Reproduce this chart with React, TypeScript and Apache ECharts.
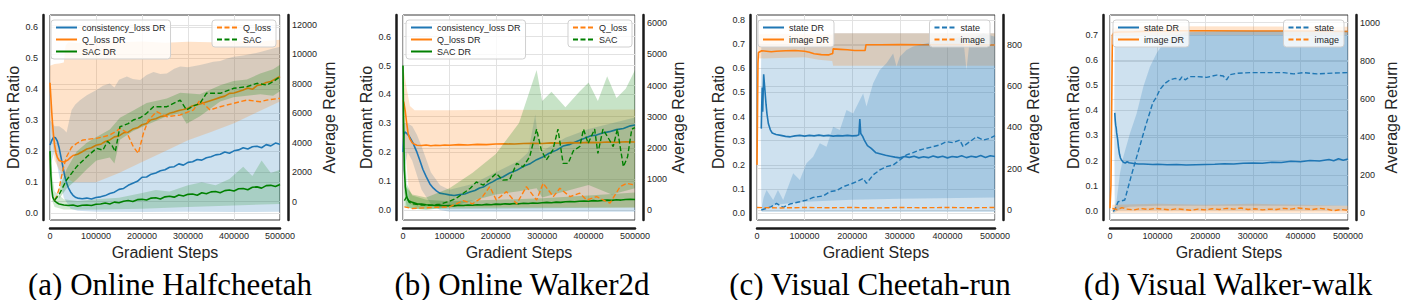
import React, { useEffect, useRef } from 'react';
import * as echarts from 'echarts';

type P = [number, number];

const FONT = '"Liberation Sans", Arial, sans-serif';
const BLUE = '#1f77b4';
const ORANGE = '#ff7f0e';
const GREEN = '#008000';
const K = 1000; // steps are written in thousands

// ---------------- tick labels ----------------
const X_TICKS = [0, 100000, 200000, 300000, 400000, 500000];
const TICKS_DR_06 = [0, 0.1, 0.2, 0.3, 0.4, 0.5, 0.6];
const TICKS_DR_07 = [0, 0.1, 0.2, 0.3, 0.4, 0.5, 0.6, 0.7];
const TICKS_DR_08 = [0, 0.1, 0.2, 0.3, 0.4, 0.5, 0.6, 0.7, 0.8];
const TICKS_RET_A = [0, 2000, 4000, 6000, 8000, 10000, 12000];
const TICKS_RET_B = [0, 1000, 2000, 3000, 4000, 5000, 6000];
const TICKS_RET_C = [0, 200, 400, 600, 800];
const TICKS_RET_D = [0, 200, 400, 600, 800, 1000];

// ---------------- (a) Online Halfcheetah ----------------
const A_CONS_DR: P[] = [[0,0.22],[4,0.235],[8,0.245],[12,0.243],[16,0.232],[20,0.21],[24,0.18],[28,0.15],[32,0.12],[36,0.098],[40,0.082],[45,0.068],[50,0.058],[55,0.052],[60,0.049],[70,0.047],[80,0.049],[90,0.046],[100,0.051],[110,0.053],[120,0.057],[130,0.064],[140,0.068],[150,0.077],[160,0.08],[170,0.09],[180,0.097],[190,0.103],[200,0.116],[210,0.117],[220,0.126],[230,0.13],[240,0.137],[250,0.14],[260,0.148],[270,0.15],[280,0.159],[290,0.155],[300,0.164],[310,0.166],[320,0.173],[330,0.171],[340,0.179],[350,0.182],[360,0.188],[370,0.19],[380,0.197],[390,0.193],[400,0.201],[410,0.204],[420,0.211],[430,0.207],[440,0.214],[450,0.216],[460,0.211],[470,0.221],[480,0.217],[490,0.226],[500,0.222]];
const A_CONS_LO: P[] = [[0,0.15],[10,0.2],[20,0.12],[30,0.05],[45,0.015],[60,0.008],[100,0.005],[200,0.004],[300,0.005],[400,0.004],[500,0.005]];
const A_CONS_HI: P[] = [[0,0.3],[10,0.28],[20,0.28],[30,0.27],[36,0.26],[42,0.3],[47,0.332],[55,0.35],[65,0.364],[80,0.38],[101,0.397],[115,0.41],[130,0.418],[140,0.405],[150,0.43],[167,0.44],[180,0.432],[196,0.429],[210,0.445],[225,0.455],[240,0.448],[254,0.45],[270,0.465],[283,0.472],[300,0.47],[326,0.477],[340,0.482],[355,0.488],[370,0.49],[385,0.498],[399,0.504],[420,0.508],[442,0.514],[455,0.518],[471,0.525],[485,0.53],[500,0.536]];
const A_QL_DR: P[] = [[0,0.42],[2,0.37],[4,0.32],[6,0.28],[8,0.245],[10,0.22],[13,0.195],[16,0.18],[20,0.17],[25,0.167],[30,0.165],[35,0.168],[40,0.173],[45,0.18],[50,0.186],[60,0.19],[70,0.198],[80,0.207],[90,0.211],[100,0.219],[110,0.222],[120,0.231],[130,0.236],[140,0.246],[150,0.249],[160,0.259],[170,0.261],[180,0.271],[190,0.275],[200,0.285],[210,0.289],[220,0.301],[230,0.304],[240,0.311],[250,0.314],[260,0.322],[270,0.326],[280,0.331],[290,0.334],[300,0.338],[310,0.346],[320,0.349],[330,0.353],[340,0.358],[350,0.363],[360,0.368],[370,0.373],[380,0.377],[390,0.386],[400,0.387],[410,0.392],[420,0.397],[430,0.403],[440,0.399],[450,0.411],[460,0.414],[470,0.421],[480,0.424],[490,0.432],[500,0.44]];
const A_QL_LO: P[] = [[0,0.3],[10,0.17],[20,0.14],[30,0.12],[50,0.1],[100,0.1],[150,0.13],[200,0.165],[250,0.2],[300,0.235],[350,0.262],[400,0.29],[450,0.325],[500,0.36]];
const A_QL_HI: P[] = [[0,0.475],[10,0.48],[20,0.482],[30,0.485],[34,0.54],[40,0.55],[60,0.548],[100,0.552],[150,0.55],[200,0.553],[250,0.549],[300,0.552],[350,0.55],[400,0.553],[450,0.551],[480,0.556],[500,0.558]];
const A_SAC_DR: P[] = [[0,0.2],[2,0.12],[4,0.075],[6,0.052],[10,0.04],[15,0.034],[20,0.03],[30,0.027],[40,0.025],[50,0.027],[60,0.023],[70,0.026],[80,0.027],[90,0.025],[100,0.029],[110,0.03],[120,0.033],[130,0.03],[140,0.036],[150,0.034],[160,0.039],[170,0.041],[180,0.038],[190,0.044],[200,0.045],[210,0.043],[220,0.049],[230,0.05],[240,0.046],[250,0.053],[260,0.055],[270,0.052],[280,0.059],[290,0.056],[300,0.061],[310,0.062],[320,0.058],[330,0.066],[340,0.063],[350,0.069],[360,0.07],[370,0.066],[380,0.073],[390,0.075],[400,0.072],[410,0.079],[420,0.08],[430,0.076],[440,0.084],[450,0.085],[460,0.081],[470,0.089],[480,0.09],[490,0.086],[500,0.093]];
const A_SAC_LO: P[] = [[0,0.12],[5,0.04],[10,0.02],[30,0.012],[100,0.012],[200,0.015],[300,0.02],[400,0.025],[500,0.03]];
const A_SAC_HI: P[] = [[0,0.26],[5,0.12],[10,0.07],[30,0.045],[60,0.04],[100,0.045],[150,0.05],[200,0.065],[230,0.075],[260,0.07],[300,0.09],[330,0.1],[360,0.09],[390,0.11],[420,0.15],[440,0.12],[460,0.17],[480,0.13],[500,0.14]];
const A_QL_RET: P[] = [[10,100],[15,400],[20,900],[25,1700],[30,2400],[36,3050],[47,3700],[60,4000],[72,4190],[85,4250],[101,4300],[115,4400],[130,4530],[145,4800],[152,4980],[167,4700],[181,3735],[192,3280],[203,4640],[214,5550],[232,6110],[254,5770],[283,5890],[312,6230],[326,6900],[348,6230],[370,6450],[399,6680],[428,6900],[457,6790],[471,6900],[500,7020]];
const A_SAC_RET: P[] = [[10,100],[20,500],[36,1470],[58,2380],[80,3050],[101,3620],[115,3500],[125,4100],[135,3800],[142,3400],[152,5090],[170,5300],[181,5550],[196,5700],[210,6000],[225,6450],[254,6450],[283,6900],[297,6230],[312,6500],[326,6680],[340,7360],[370,7360],[399,7700],[428,7810],[450,8040],[471,7920],[485,8150],[500,8490]];
const A_SAC_RET_LO: P[] = [[20,200],[36,900],[58,1500],[80,2200],[101,2800],[130,3000],[140,2600],[152,4200],[181,4800],[210,5200],[254,5800],[283,6000],[297,5300],[326,5800],[370,6800],[399,7100],[428,7200],[457,7300],[485,7200],[500,7500]];
const A_SAC_RET_HI: P[] = [[20,900],[36,2200],[58,3400],[80,4000],[101,4400],[130,4900],[152,5700],[181,6200],[210,6700],[254,7000],[283,7400],[326,7300],[370,7900],[399,8200],[428,8300],[457,8700],[485,9000],[500,9300]];

// ---------------- (b) Online Walker2d ----------------
const B_CONS_DR: P[] = [[0,0.2],[2,0.26],[4,0.27],[8,0.265],[12,0.258],[16,0.248],[22,0.23],[26,0.215],[30,0.2],[36,0.173],[43,0.14],[50,0.115],[58,0.09],[65,0.076],[72,0.066],[79,0.058],[90,0.055],[100,0.052],[110,0.05],[122,0.053],[133,0.055],[144,0.062],[155,0.067],[165,0.076],[173,0.079],[185,0.091],[193,0.097],[201,0.105],[215,0.114],[230,0.128],[245,0.137],[260,0.151],[275,0.161],[288,0.174],[300,0.182],[315,0.196],[331,0.207],[345,0.221],[360,0.227],[374,0.237],[390,0.247],[405,0.257],[417,0.259],[430,0.266],[445,0.271],[460,0.278],[475,0.282],[490,0.291],[500,0.294]];
const B_CONS_LO: P[] = [[0,0.12],[10,0.2],[20,0.17],[30,0.12],[40,0.07],[60,0.02],[80,0.0],[100,-0.006],[500,-0.006]];
const B_CONS_HI: P[] = [[0,0.3],[10,0.3],[20,0.29],[30,0.26],[40,0.22],[60,0.13],[80,0.085],[100,0.07],[150,0.09],[200,0.13],[250,0.17],[270,0.2],[285,0.33],[295,0.2],[350,0.25],[400,0.28],[450,0.3],[500,0.32]];
const B_QL_DR: P[] = [[0,0.38],[2,0.37],[5,0.34],[8,0.3],[11,0.265],[15,0.245],[20,0.232],[25,0.227],[30,0.224],[40,0.223],[50,0.225],[60,0.222],[70,0.224],[80,0.223],[90,0.225],[100,0.224],[120,0.226],[140,0.225],[160,0.227],[180,0.226],[200,0.228],[220,0.229],[240,0.228],[260,0.23],[280,0.231],[300,0.23],[320,0.232],[340,0.231],[360,0.233],[380,0.232],[400,0.234],[420,0.233],[440,0.235],[460,0.234],[480,0.236],[500,0.235]];
const B_QL_LO: P[] = [[0,0.3],[8,0.15],[15,0.02],[30,0.008],[500,0.008]];
const B_QL_HI: P[] = [[0,0.5],[8,0.42],[15,0.36],[25,0.345],[100,0.345],[200,0.347],[300,0.346],[400,0.347],[500,0.348]];
const B_SAC_DR: P[] = [[0,0.5],[1,0.35],[2,0.22],[3,0.14],[5,0.08],[8,0.045],[12,0.032],[20,0.026],[30,0.021],[40,0.02],[50,0.018],[60,0.017],[70,0.015],[80,0.016],[90,0.014],[100,0.015],[110,0.014],[120,0.016],[130,0.015],[140,0.017],[150,0.016],[160,0.018],[170,0.017],[180,0.019],[190,0.018],[200,0.02],[210,0.019],[220,0.021],[230,0.02],[240,0.022],[250,0.021],[260,0.023],[270,0.022],[280,0.024],[290,0.023],[300,0.025],[310,0.026],[320,0.025],[330,0.027],[340,0.026],[350,0.028],[360,0.029],[370,0.028],[380,0.03],[390,0.031],[400,0.03],[410,0.032],[420,0.031],[430,0.033],[440,0.034],[450,0.033],[460,0.035],[470,0.034],[480,0.036],[490,0.037],[500,0.036]];
const B_SAC_LO: P[] = [[0,0.3],[3,0.06],[8,0.01],[20,0.003],[500,0.008]];
const B_SAC_HI: P[] = [[0,0.55],[3,0.25],[8,0.09],[20,0.05],[50,0.035],[100,0.03],[200,0.035],[300,0.04],[400,0.05],[500,0.06]];
const B_QL_RET: P[] = [[3,100],[20,50],[60,80],[100,100],[130,300],[150,200],[170,400],[187,750],[201,320],[223,590],[245,200],[266,750],[288,320],[302,860],[324,430],[338,700],[360,430],[381,540],[396,320],[417,430],[446,220],[468,750],[482,860],[500,800]];
const B_SAC_RET: P[] = [[3,300],[8,430],[13,250],[20,200],[40,160],[60,150],[80,190],[100,280],[115,380],[130,540],[145,700],[158,900],[173,800],[188,1000],[201,1180],[215,960],[230,980],[245,1500],[259,1390],[273,1710],[288,2600],[298,1930],[309,1610],[323,1930],[334,2600],[345,1500],[356,1500],[367,1900],[381,2040],[389,2600],[399,2140],[413,2600],[420,1820],[431,2600],[445,2250],[453,2040],[462,2600],[475,1390],[484,1710],[493,2600],[500,2650]];
const B_SAC_RET_LO: P[] = [[3,100],[20,50],[50,0],[100,100],[150,300],[200,500],[250,600],[288,700],[300,400],[350,600],[400,800],[450,500],[500,700]];
const B_SAC_RET_HI: P[] = [[3,800],[20,500],[50,400],[100,700],[150,1200],[200,1800],[250,2800],[288,4500],[300,3500],[320,3800],[350,3300],[380,3800],[400,4100],[420,3500],[440,4300],[460,3600],[480,3900],[500,4500]];

// ---------------- (c) Visual Cheetah-run ----------------
const C_STATE_DR: P[] = [[9,0.35],[10,0.45],[11,0.52],[12,0.42],[13,0.5],[14,0.575],[15,0.55],[17,0.5],[19,0.45],[21,0.41],[24,0.37],[28,0.345],[32,0.332],[40,0.326],[50,0.322],[60,0.318],[70,0.316],[80,0.32],[90,0.322],[100,0.319],[110,0.322],[120,0.32],[130,0.323],[140,0.32],[150,0.322],[160,0.319],[170,0.321],[180,0.32],[190,0.322],[200,0.32],[210,0.321],[214,0.325],[216,0.39],[218,0.33],[222,0.318],[226,0.3],[232,0.28],[240,0.268],[250,0.25],[260,0.245],[270,0.24],[280,0.236],[290,0.232],[300,0.229],[310,0.235],[320,0.231],[330,0.236],[340,0.229],[350,0.234],[360,0.23],[370,0.237],[380,0.231],[390,0.236],[400,0.229],[410,0.235],[420,0.232],[430,0.238],[440,0.23],[450,0.236],[460,0.232],[470,0.239],[480,0.231],[490,0.238],[500,0.235]];
const C_STATE_LO: P[] = [[8,0.35],[9,0.05],[10,0.005],[500,0.005]];
const C_STATE_HI: P[] = [[8,0.5],[9,0.69],[100,0.69],[158,0.69],[160,0.745],[500,0.745]];
const C_IMG_DR: P[] = [[0,0.2],[1,0.4],[2,0.62],[3,0.665],[10,0.672],[20,0.67],[30,0.668],[40,0.67],[60,0.672],[80,0.673],[100,0.67],[110,0.666],[120,0.66],[135,0.656],[150,0.655],[157,0.66],[159,0.66],[160,0.68],[175,0.678],[190,0.676],[205,0.673],[220,0.673],[227,0.673],[229,0.697],[260,0.697],[300,0.698],[350,0.697],[400,0.698],[450,0.697],[500,0.696]];
const C_IMG_LO: P[] = [[0,0.1],[3,0.64],[100,0.645],[130,0.635],[158,0.63],[160,0.61],[500,0.61]];
const C_IMG_HI: P[] = [[0,0.3],[3,0.74],[50,0.742],[100,0.74],[158,0.738],[160,0.745],[500,0.745]];
const C_STATE_RET: P[] = [[9,0],[20,8],[30,16],[41,32],[55,13],[69,29],[90,40],[104,48],[118,61],[139,68],[153,89],[167,94],[181,113],[195,124],[209,137],[223,153],[230,129],[244,170],[258,194],[272,210],[286,218],[300,242],[314,267],[328,278],[342,291],[356,299],[370,307],[384,315],[398,331],[412,326],[426,339],[433,307],[447,331],[461,355],[475,339],[489,347],[500,360]];
const C_STATE_RET_LO: P[] = [[9,0],[20,10],[40,25],[100,40],[200,50],[300,55],[500,60]];
const C_STATE_RET_HI: P[] = [[9,0],[14,60],[20,97],[34,48],[44,97],[55,48],[76,178],[90,145],[104,226],[118,258],[132,323],[146,307],[160,404],[174,388],[188,485],[202,468],[216,533],[223,565],[230,501],[244,614],[258,678],[272,711],[286,759],[293,695],[300,743],[314,775],[328,792],[356,808],[384,824],[412,832],[433,840],[440,678],[447,824],[475,856],[500,840]];
const C_IMG_RET: P[] = [[0,12],[50,10],[100,12],[150,11],[200,12],[250,10],[300,12],[350,11],[400,12],[450,11],[500,12]];

// ---------------- (d) Visual Walker-walk ----------------
const D_STATE_DR: P[] = [[10,0.39],[11,0.36],[12,0.34],[13,0.33],[14,0.31],[16,0.285],[18,0.25],[20,0.225],[22,0.21],[25,0.2],[28,0.193],[32,0.19],[36,0.195],[40,0.191],[50,0.188],[60,0.186],[70,0.186],[80,0.185],[90,0.184],[100,0.185],[120,0.183],[140,0.184],[160,0.182],[180,0.183],[200,0.184],[220,0.185],[240,0.187],[260,0.186],[280,0.189],[300,0.19],[320,0.189],[340,0.193],[360,0.192],[380,0.197],[400,0.195],[420,0.2],[440,0.198],[460,0.204],[470,0.199],[480,0.207],[490,0.201],[500,0.206]];
const D_STATE_LO: P[] = [[9,0.3],[10,0.003],[500,0.003]];
const D_STATE_HI: P[] = [[9,0.45],[10,0.72],[500,0.72]];
const D_IMG_DR: P[] = [[0,0.01],[2,0.1],[4,0.5],[5,0.7],[8,0.71],[20,0.712],[50,0.713],[100,0.716],[150,0.717],[200,0.717],[300,0.716],[400,0.716],[500,0.714]];
const D_IMG_LO: P[] = [[0,0],[3,0.3],[5,0.69],[10,0.7],[500,0.7]];
const D_IMG_HI: P[] = [[0,0.02],[3,0.5],[5,0.725],[10,0.73],[100,0.735],[500,0.733]];
const D_STATE_RET: P[] = [[7,9],[12,30],[17,61],[24,65],[31,70],[45,200],[60,330],[75,460],[90,580],[98,612],[105,650],[116,682],[126,700],[137,708],[147,700],[151,715],[158,700],[168,717],[182,717],[203,713],[224,725],[238,720],[245,700],[252,727],[266,734],[295,738],[330,738],[365,738],[386,731],[407,738],[435,731],[456,734],[500,738]];
const D_STATE_RET_LO: P[] = [[7,0],[20,20],[40,35],[100,40],[500,40]];
const D_STATE_RET_HI: P[] = [[7,10],[14,70],[21,210],[28,297],[42,420],[56,524],[70,664],[84,769],[98,839],[112,892],[126,918],[140,935],[160,950],[250,955],[350,955],[500,955]];
const D_IMG_RET: P[] = [[5,25],[15,20],[25,30],[35,22],[50,18],[65,25],[80,20],[95,26],[110,22],[125,18],[140,24],[155,20],[170,16],[185,22],[200,18],[215,24],[230,20],[245,26],[260,22],[275,28],[290,20],[305,24],[320,18],[335,22],[350,20],[365,26],[380,22],[395,28],[410,24],[425,20],[440,26],[455,22],[470,14],[485,20],[500,16]];
const D_IMG_RET_LO: P[] = [[5,3],[500,3]];
const D_IMG_RET_HI: P[] = [[5,45],[100,50],[200,45],[300,50],[400,45],[500,40]];

// ---------------- helpers ----------------
const rgba = (hex: string, a: number) => {
  const n = parseInt(hex.slice(1), 16);
  return `rgba(${(n >> 16) & 255},${(n >> 8) & 255},${n & 255},${a})`;
};
const toXY = (arr: P[]) => arr.map(([k, v]) => [k * K, v]);

interface LineDef { name: string; data: P[]; color: string; dashed?: boolean }
interface BandDef { lo: P[]; hi: P[]; color: string; alpha?: number }
interface Panel {
  left: number; width: number;
  yL: [number, number]; yR: [number, number];
  ticksL: number[]; ticksR: number[];
  gapL: number; gapR: number;
  legendL: string[]; legendR: string[];
  legLeft: number; legRightEdge: number;
  title: string; titleX: number;
  bandsDR: BandDef[]; linesDR: LineDef[]; bandsRet: BandDef[]; linesRet: LineDef[];
}

const PANELS: Panel[] = [
  {
    left: 50, width: 230, yL: [-0.0215, 0.638], yR: [-1245, 12680],
    ticksL: TICKS_DR_06, ticksR: TICKS_RET_A, gapL: 18, gapR: 33,
    legendL: ['consistency_loss DR', 'Q_loss DR', 'SAC DR'], legendR: ['Q_loss', 'SAC'],
    legLeft: 51, legRightEdge: 276, title: '(a) Online Halfcheetah', titleX: 170,
    bandsDR: [
      { lo: A_CONS_LO, hi: A_CONS_HI, color: BLUE },
      { lo: A_QL_LO, hi: A_QL_HI, color: ORANGE },
      { lo: A_SAC_LO, hi: A_SAC_HI, color: GREEN, alpha: 0.18 },
    ],
    linesDR: [
      { name: 'consistency_loss DR', data: A_CONS_DR, color: BLUE },
      { name: 'Q_loss DR', data: A_QL_DR, color: ORANGE },
      { name: 'SAC DR', data: A_SAC_DR, color: GREEN },
    ],
    bandsRet: [{ lo: A_SAC_RET_LO, hi: A_SAC_RET_HI, color: GREEN }],
    linesRet: [
      { name: 'Q_loss', data: A_QL_RET, color: ORANGE, dashed: true },
      { name: 'SAC', data: A_SAC_RET, color: GREEN, dashed: true },
    ],
  },
  {
    left: 403, width: 232, yL: [-0.035, 0.675], yR: [-321, 6268],
    ticksL: TICKS_DR_06, ticksR: TICKS_RET_B, gapL: 18, gapR: 26,
    legendL: ['consistency_loss DR', 'Q_loss DR', 'SAC DR'], legendR: ['Q_loss', 'SAC'],
    legLeft: 406, legRightEdge: 632, title: '(b) Online Walker2d', titleX: 522,
    bandsDR: [
      { lo: B_CONS_LO, hi: B_CONS_HI, color: BLUE },
      { lo: B_QL_LO, hi: B_QL_HI, color: ORANGE },
      { lo: B_SAC_LO, hi: B_SAC_HI, color: GREEN },
    ],
    linesDR: [
      { name: 'consistency_loss DR', data: B_CONS_DR, color: BLUE },
      { name: 'Q_loss DR', data: B_QL_DR, color: ORANGE },
      { name: 'SAC DR', data: B_SAC_DR, color: GREEN },
    ],
    bandsRet: [{ lo: B_SAC_RET_LO, hi: B_SAC_RET_HI, color: GREEN }],
    linesRet: [
      { name: 'Q_loss', data: B_QL_RET, color: ORANGE, dashed: true },
      { name: 'SAC', data: B_SAC_RET, color: GREEN, dashed: true },
    ],
  },
  {
    left: 757, width: 238, yL: [-0.028, 0.82], yR: [-48.5, 945],
    ticksL: TICKS_DR_08, ticksR: TICKS_RET_C, gapL: 24, gapR: 20,
    legendL: ['state DR', 'image DR'], legendR: ['state', 'image'],
    legLeft: 758, legRightEdge: 990, title: '(c) Visual Cheetah-run', titleX: 870,
    bandsDR: [
      { lo: C_STATE_LO, hi: C_STATE_HI, color: BLUE },
      { lo: C_IMG_LO, hi: C_IMG_HI, color: ORANGE },
    ],
    linesDR: [
      { name: 'state DR', data: C_STATE_DR, color: BLUE },
      { name: 'image DR', data: C_IMG_DR, color: ORANGE },
    ],
    bandsRet: [{ lo: C_STATE_RET_LO, hi: C_STATE_RET_HI, color: BLUE }],
    linesRet: [
      { name: 'state', data: C_STATE_RET, color: BLUE, dashed: true },
      { name: 'image', data: C_IMG_RET, color: ORANGE, dashed: true },
    ],
  },
  {
    left: 1110, width: 238, yL: [-0.037, 0.78], yR: [-35, 1040],
    ticksL: TICKS_DR_07, ticksR: TICKS_RET_D, gapL: 18, gapR: 25,
    legendL: ['state DR', 'image DR'], legendR: ['state', 'image'],
    legLeft: 1113, legRightEdge: 1344, title: '(d) Visual Walker-walk', titleX: 1228,
    bandsDR: [
      { lo: D_STATE_LO, hi: D_STATE_HI, color: BLUE },
      { lo: D_IMG_LO, hi: D_IMG_HI, color: ORANGE },
    ],
    linesDR: [
      { name: 'state DR', data: D_STATE_DR, color: BLUE },
      { name: 'image DR', data: D_IMG_DR, color: ORANGE },
    ],
    bandsRet: [
      { lo: D_STATE_RET_LO, hi: D_STATE_RET_HI, color: BLUE },
      { lo: D_IMG_RET_LO, hi: D_IMG_RET_HI, color: ORANGE },
    ],
    linesRet: [
      { name: 'state', data: D_STATE_RET, color: BLUE, dashed: true },
      { name: 'image', data: D_IMG_RET, color: ORANGE, dashed: true },
    ],
  },
];

const TEXT = '#262626';
const SPINE = '#1a1a1a';
const GRIDLINE = '#e2e2e2';

function bandSeries(b: BandDef, xIdx: number, yIdx: number, z: number, id: string) {
  const lo = toXY(b.lo);
  const hi = toXY(b.hi);
  const fill = rgba(b.color, b.alpha ?? 0.22);
  return {
    type: 'custom',
    name: id,
    xAxisIndex: xIdx,
    yAxisIndex: yIdx,
    z,
    silent: true,
    clip: true,
    data: [lo[0]],
    renderItem: (_p: any, api: any) => {
      const pts = lo.map((p) => api.coord(p)).concat(hi.slice().reverse().map((p) => api.coord(p)));
      return { type: 'polygon', shape: { points: pts }, style: { fill } };
    },
  };
}

function lineSeries(l: LineDef, xIdx: number, yIdx: number, z: number) {
  return {
    type: 'line',
    name: l.name,
    xAxisIndex: xIdx,
    yAxisIndex: yIdx,
    z,
    symbol: 'none',
    silent: true,
    data: toXY(l.data),
    lineStyle: l.dashed
      ? { color: l.color, width: 1.4, type: [5, 2.5] }
      : { color: l.color, width: 1.6, type: 'solid' },
    itemStyle: { color: l.color },
  };
}

function buildOption() {
  const grid: any[] = [];
  const xAxis: any[] = [];
  const yAxis: any[] = [];
  const series: any[] = [];
  const legend: any[] = [];
  const graphic: any[] = [];
  const legendCommon = {
    orient: 'vertical',
    top: 20,
    itemWidth: 21,
    itemHeight: 9,
    itemGap: 3,
    padding: [3, 5, 3, 4],
    backgroundColor: 'rgba(255,255,255,0.8)',
    borderColor: '#d0d0d0',
    borderWidth: 1,
    borderRadius: 3,
    selectedMode: false,
    z: 10,
    itemStyle: { color: 'rgba(0,0,0,0)', borderWidth: 0, opacity: 0 },
    textStyle: { fontSize: 9, color: TEXT, fontFamily: FONT },
  };
  PANELS.forEach((p, i) => {
    grid.push({
      left: p.left, top: 15, width: p.width, height: 205,
      show: true, borderColor: '#3a3a3a', borderWidth: 1, backgroundColor: 'transparent',
    });
    xAxis.push({
      type: 'value', gridIndex: i, min: 0, max: 500000, interval: 100000, offset: 8, position: 'bottom',
      axisLine: { show: true, onZero: false, lineStyle: { color: SPINE, width: 2.5 } },
      axisTick: { show: false },
      axisLabel: {
        fontSize: 9, color: TEXT, margin: 3, fontFamily: FONT,
        customValues: X_TICKS, formatter: (v: number) => String(v),
      },
      splitLine: { show: true, lineStyle: { color: GRIDLINE, width: 1 } },
      name: 'Gradient Steps', nameLocation: 'middle', nameGap: 13,
      nameTextStyle: { fontSize: 16, color: TEXT, fontFamily: FONT },
    });
    yAxis.push({
      type: 'value', gridIndex: i, position: 'left', min: p.yL[0], max: p.yL[1], offset: 7,
      axisLine: { show: true, onZero: false, lineStyle: { color: SPINE, width: 2.5 } },
      axisTick: { show: false, customValues: p.ticksL },
      axisLabel: {
        fontSize: 9, color: TEXT, margin: 5, fontFamily: FONT,
        customValues: p.ticksL, formatter: (v: number) => v.toFixed(1),
      },
      splitLine: { show: true, lineStyle: { color: GRIDLINE, width: 1 } },
      name: 'Dormant Ratio', nameLocation: 'middle', nameGap: p.gapL, nameRotate: 90,
      nameTextStyle: { fontSize: 16, color: TEXT, fontFamily: FONT },
    });
    yAxis.push({
      type: 'value', gridIndex: i, position: 'right', min: p.yR[0], max: p.yR[1], offset: 8,
      axisLine: { show: true, onZero: false, lineStyle: { color: SPINE, width: 2.5 } },
      axisTick: { show: false, customValues: p.ticksR },
      axisLabel: {
        fontSize: 9, color: TEXT, margin: 4, fontFamily: FONT,
        customValues: p.ticksR, formatter: (v: number) => String(v),
      },
      splitLine: { show: true, lineStyle: { color: GRIDLINE, width: 1 } },
      name: 'Average Return', nameLocation: 'middle', nameGap: p.gapR, nameRotate: 90,
      nameTextStyle: { fontSize: 16, color: TEXT, fontFamily: FONT },
    });
    const yl = 2 * i;
    const yr = 2 * i + 1;
    p.bandsDR.forEach((b, j) => series.push(bandSeries(b, i, yl, 1, `_bandDR_${i}_${j}`)));
    p.linesDR.forEach((l) => series.push(lineSeries(l, i, yl, 2)));
    p.bandsRet.forEach((b, j) => series.push(bandSeries(b, i, yr, 3, `_bandRet_${i}_${j}`)));
    p.linesRet.forEach((l) => series.push(lineSeries(l, i, yr, 4)));
    legend.push({ ...legendCommon, left: p.legLeft, data: p.legendL });
    legend.push({ ...legendCommon, right: 1402 - p.legRightEdge, data: p.legendR });
    graphic.push({
      type: 'text', x: p.titleX, y: 284, z: 10,
      style: {
        text: p.title, fill: '#000', font: '31px "Liberation Serif", "Times New Roman", serif',
        textAlign: 'center', textVerticalAlign: 'middle',
      },
    });
  });
  return {
    animation: false,
    backgroundColor: '#ffffff',
    textStyle: { fontFamily: FONT },
    grid, xAxis, yAxis, series, legend, graphic,
  };
}

export default function App() {
  const ref = useRef<HTMLDivElement>(null);
  useEffect(() => {
    if (!ref.current) return;
    const chart = echarts.init(ref.current, null, { renderer: 'svg' });
    chart.setOption(buildOption() as any);
    return () => chart.dispose();
  }, []);
  return (
    <div
      ref={ref}
      style={{ position: 'absolute', left: 0, top: 0, width: 1402, height: 300, background: '#fff' }}
    />
  );
}
